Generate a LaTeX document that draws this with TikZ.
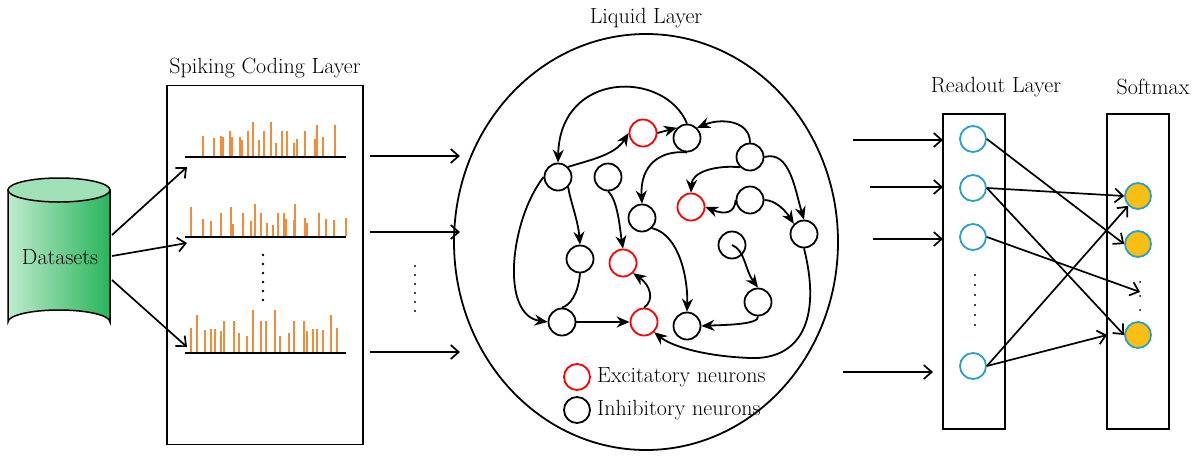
\documentclass[tikz,border=0pt]{standalone}
\usetikzlibrary{arrows.meta,shapes.geometric}
\definecolor{spk}{RGB}{240,140,60}
\definecolor{rcyan}{RGB}{40,160,200}
\definecolor{sorange}{RGB}{250,190,20}
\definecolor{dgreen}{RGB}{40,180,90}
\definecolor{lgreen}{RGB}{190,235,205}
\begin{document}
\begin{tikzpicture}[x=1pt,y=-1pt,line width=1.7pt,
  txt/.style={font=\fontsize{22}{26}\selectfont},
  neu/.style={circle,draw,line width=1.8pt,minimum size=27pt,inner sep=0pt},
  exc/.style={neu,draw=red},
  rd/.style={circle,draw=rcyan,line width=1.8pt,minimum size=26pt,inner sep=0pt},
  sm/.style={circle,draw=rcyan,fill=sorange,line width=1.8pt,minimum size=26pt,inner sep=0pt},
  syn/.style={-{Stealth[length=13pt,width=11pt]},line width=1.8pt},
  op/.style={-{Straight Barb[length=8pt,width=14pt]},line width=1.7pt}]
\useasboundingbox (0,0) rectangle (1200,459);
% datasets cylinder
\shade[left color=lgreen,right color=dgreen,draw=black,line width=1.5pt]
  (8,190) -- (8,322) arc[start angle=180,end angle=360,x radius=51,y radius=12] -- (110,190) -- cycle;
\draw[fill=lgreen!80!dgreen,line width=1.5pt] (59,190) ellipse[x radius=51,y radius=12];
\node[txt] (ds) at (60,257) {Datasets};
\coordinate (dsr1) at (112,235);
\coordinate (dsr2) at (112,256);
\coordinate (dsr3) at (112,280);
% spiking coding layer
\node[draw,line width=1.7pt,minimum width=196pt,minimum height=359pt,inner sep=0pt] (code) at (265,265) {};
\node[txt] (codet) at (265,68) {Spiking Coding Layer};
\coordinate (b1) at (187,167);
\coordinate (b2) at (187,243);
\coordinate (b3) at (187,347);
\draw[op] (dsr1) -- (b1);
\draw[op] (dsr2) -- (b2);
\draw[op] (dsr3) -- (b3);
\draw[line width=2pt] (185,157) -- (346,157) (185,237) -- (346,237) (185,353) -- (346,353);
\begin{scope}[spk,line width=1.8pt]
\foreach \x/\h in {203/20,214/18,221/20,223/19,230/25,232/19,240/19,242/16,248/25,253/34,259/16,264/25,271/34,276/13,282/25,287/25,294/13,297/17,305/25,315/17,317/31,323/19,335/31}
  \draw (\x,156) -- ++(0,-\h);
\foreach \x/\h in {191/29,203/17,211/15,221/23,231/29,233/12,243/23,251/15,255/32,261/23,267/13,273/11,278/23,284/23,286/17,294/16,295/32,305/18,307/13,319/23,326/17,334/16,346/18}
  \draw (\x,236) -- ++(0,-\h);
\foreach \x/\h in {191/24,197/37,205/22,211/23,215/23,221/21,224/31,234/31,239/19,247/16,253/42,261/31,266/31,275/42,280/16,289/19,294/31,304/31,307/21,313/23,317/23,323/22,331/37,337/24}
  \draw (\x,352) -- ++(0,-\h);
\end{scope}
\foreach \y in {255,264,...,302} \fill (263,\y) circle[radius=1.3pt];
% arrows to liquid
\coordinate (c1) at (370,156); \coordinate (l1) at (460,156);
\coordinate (c2) at (370,232); \coordinate (l2) at (460,232);
\coordinate (c3) at (370,352); \coordinate (l3) at (460,352);
\draw[op] (c1) -- (l1);
\draw[op] (c2) -- (l2);
\draw[op] (c3) -- (l3);
\foreach \y in {266,275,...,312} \fill (415,\y) circle[radius=1.1pt];
% liquid layer
\node[draw,ellipse,line width=1.8pt,minimum width=384pt,minimum height=416pt,inner sep=0pt] (liq) at (646,242) {};
\node[txt] (liqt) at (646,18) {Liquid Layer};
\node[neu] (A) at (558,177) {};
\node[exc] (B) at (643,133) {};
\node[neu] (C) at (687,138) {};
\node[neu] (D) at (750,157) {};
\node[neu] (E) at (608,177) {};
\node[neu] (F) at (642,218) {};
\node[exc] (G) at (691,207) {};
\node[neu] (H) at (750,200) {};
\node[neu] (I) at (804,234) {};
\node[neu] (J) at (580,259) {};
\node[exc] (K) at (623,263) {};
\node[neu] (L) at (732,245) {};
\node[neu] (M) at (758,302) {};
\node[neu] (N) at (562,322) {};
\node[exc] (O) at (644,322) {};
\node[neu] (P) at (687,326) {};
\draw[syn] (C.north) .. controls (665,70) and (560,70) .. (A.north);
\draw[syn] (A.north east) .. controls (590,160) and (615,155) .. (B.west);
\draw[syn] (B.east) -- (C.north west);
\draw[syn] (D.north) .. controls (750,120) and (720,118) .. (C.north east);
\draw[syn] (C.south) .. controls (660,150) and (640,165) .. (F.north);
\draw[syn] (D.south west) .. controls (715,165) and (692,172) .. (G.north);
\draw[syn] (H.west) .. controls (735,213) and (725,215) .. (G.east);
\draw[syn] (D.east) .. controls (790,150) and (795,190) .. (I.north);
\draw[syn] (H.east) .. controls (775,200) and (785,210) .. (I.north west);
\draw[syn] (A.south east) .. controls (570,200) and (578,220) .. (J.north);
\draw[syn] (A.west) .. controls (510,220) and (500,315) .. (N.west);
\draw[line width=1.8pt] (J.south) .. controls (578,295) and (570,305) .. (N.north);
\draw[syn] (E.south) .. controls (618,200) and (620,230) .. (K.north);
\draw[syn] (N.east) -- (O.west);
\draw[syn] (O.north) .. controls (655,300) and (650,285) .. (K.south east);
\draw[syn] (F.south east) .. controls (680,235) and (688,280) .. (P.north);
\draw[syn] (L.center) .. controls (745,250) and (745,270) .. (M.north);
\draw[syn] (M.south) .. controls (760,325) and (720,325) .. (P.east);
\draw[syn] (I.south) .. controls (822,320) and (800,360) .. (750,358) .. controls (700,356) and (670,345) .. (O.south east);
% legend
\node[exc,minimum size=26pt] (le) at (577,377) {};
\node[txt,anchor=west] (let) at (593,377) {Excitatory neurons};
\node[neu,minimum size=26pt] (li) at (577,410) {};
\node[txt,anchor=west] (lit) at (593,410) {Inhibitory neurons};
% readout layer
\node[draw,line width=1.7pt,minimum width=62pt,minimum height=315pt,inner sep=0pt] (rbox) at (974,271.5) {};
\node[txt] (rt) at (996,87) {Readout Layer};
\node[rd] (R1) at (973,139) {};
\node[rd] (R2) at (973,188) {};
\node[rd] (R3) at (973,237) {};
\node[rd] (R4) at (973,366) {};
\foreach \y in {275,285,...,325} \fill (975,\y) circle[radius=1.1pt];
\coordinate (q1) at (853,140); \coordinate (e1) at (943,140);
\coordinate (q2) at (870,187); \coordinate (e2) at (943,187);
\coordinate (q3) at (873,239); \coordinate (e3) at (943,239);
\coordinate (q4) at (843,372); \coordinate (e4) at (933,372);
\draw[op] (q1) -- (e1);
\draw[op] (q2) -- (e2);
\draw[op] (q3) -- (e3);
\draw[op] (q4) -- (e4);
% softmax
\node[draw,line width=1.7pt,minimum width=62pt,minimum height=315pt,inner sep=0pt] (sbox) at (1138,271.5) {};
\node[txt] (st) at (1153,87) {Softmax};
\node[sm] (S1) at (1138,196) {};
\node[sm] (S2) at (1138,244) {};
\node[sm] (S3) at (1138,335) {};
\foreach \y in {282,296,310} \fill (1140,\y) circle[radius=1pt];
\coordinate (sd) at (1140,292);
\coordinate (sb) at (1107,335);
\draw[op] (R1.east) -- (S2.west);
\draw[op] (R2.east) -- (S1.west);
\draw[op] (R2.east) -- (S3.west);
\draw[op] (R3.east) -- (sd);
\draw[op] (R4.east) -- (S1.south west);
\draw[op] (R4.east) -- (sb);
\end{tikzpicture}
\end{document}
